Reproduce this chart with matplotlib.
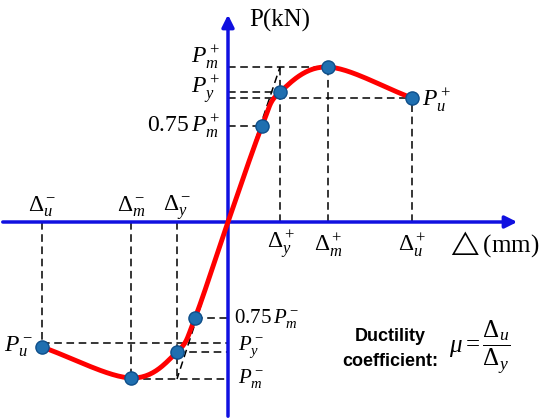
import numpy as np
import matplotlib
matplotlib.use("Agg")
import matplotlib.pyplot as plt

plt.rcParams['mathtext.fontset'] = 'custom'
plt.rcParams['mathtext.rm'] = 'Liberation Serif'
plt.rcParams['mathtext.it'] = 'Liberation Serif:italic'
plt.rcParams['mathtext.bf'] = 'Liberation Serif:bold'
plt.rcParams['font.family'] = 'Liberation Serif'

# key points (displacement, load) in schematic units
curve_x = [-186, -97, -51, -33, 0, 34, 52, 100, 184]
curve_y = [-125, -156, -130, -96, 0, 96, 130, 155, 124]
pts_x = [-186, -97, -51, -33, 34, 52, 100, 184]
pts_y = [-125, -156, -130, -96, 96, 130, 155, 124]

def catmull(xs, ys, n=30):
    P = np.column_stack([xs, ys]).astype(float)
    P = np.vstack([2*P[0]-P[1], P, 2*P[-1]-P[-2]])
    out = []
    for i in range(1, len(P)-2):
        p0, p1, p2, p3 = P[i-1], P[i], P[i+1], P[i+2]
        t = np.linspace(0, 1, n)[:, None]
        out.append(0.5*((2*p1) + (-p0+p2)*t + (2*p0-5*p1+4*p2-p3)*t**2 + (-p0+3*p1-3*p2+p3)*t**3))
    return np.vstack(out)

fig = plt.figure(figsize=(5.5, 4.19), dpi=100)
ax = fig.add_axes([0, 0, 1, 1])
ax.set_xlim(-228, 322)
ax.set_ylim(-197, 222)
ax.axis('off')

dk = dict(color='black', lw=1.1, ls=(0, (5, 3)))
ax.plot([0, 100], [155, 155], **dk)
ax.plot([0, 52], [130, 130], **dk)
ax.plot([0, 184], [124, 124], **dk)
ax.plot([0, 34], [96, 96], **dk)
ax.plot([0, 52], [0, 155], **dk)
for x, y in [(52, 155), (100, 155), (184, 124)]:
    ax.plot([x, x], [0, y], **dk)
ax.plot([-33, 0], [-96, -96], **dk)
ax.plot([-186, 0], [-121, -121], **dk)
ax.plot([-51, 0], [-130, -130], **dk)
ax.plot([-97, 0], [-157, -157], **dk)
ax.plot([0, -51], [0, -157], **dk)
for x, y in [(-186, -121), (-97, -156), (-51, -157)]:
    ax.plot([x, x], [0, y], **dk)

ax.annotate('', xy=(292, 0), xytext=(-228, 0),
            arrowprops=dict(arrowstyle='-|>', color='#1010e0', lw=2.5, mutation_scale=18))
ax.annotate('', xy=(0, 210), xytext=(0, -197),
            arrowprops=dict(arrowstyle='-|>', color='#1010e0', lw=2.5, mutation_scale=18))

c = catmull(curve_x, curve_y)
ax.plot(c[:, 0], c[:, 1], color='#ff0000', lw=3.5, zorder=3)
ax.scatter(pts_x, pts_y, s=90, color='#1f6fb0', edgecolor='#0f4f8a', lw=1, zorder=4)

fs = 17
t = dict(fontsize=fs, ha='center', va='center')
ax.text(52, 202, 'P(kN)', fontsize=18, ha='center', va='center')
ax.text(265, -22, r'$\triangle$(mm)', fontsize=18, ha='center', va='center')
ax.text(-186, 15, r'$\Delta_u^-$', **t)
ax.text(-97, 15, r'$\Delta_m^-$', **t)
ax.text(-51, 15, r'$\Delta_y^-$', **t)
ax.text(53, -22, r'$\Delta_y^+$', **t)
ax.text(100, -22, r'$\Delta_m^+$', **t)
ax.text(184, -22, r'$\Delta_u^+$', **t)
ax.text(-8, 165, r'$P_m^+$', fontsize=fs, ha='right', va='center')
ax.text(-8, 133, r'$P_y^+$', fontsize=fs, ha='right', va='center')
ax.text(-8, 96, r'$0.75\,P_m^+$', fontsize=fs, ha='right', va='center')
ax.text(208, 122, r'$P_u^+$', **t)
ax.text(6, -96, r'$0.75\,P_m^-$', fontsize=15, ha='left', va='center')
ax.text(10, -125, r'$P_y^-$', fontsize=15, ha='left', va='center')
ax.text(10, -157, r'$P_m^-$', fontsize=15, ha='left', va='center')
ax.text(-210, -125, r'$P_u^-$', **t)
ax.text(162, -127, 'Ductility\ncoefficient:', fontsize=13, fontweight='bold',
        family='Liberation Sans', ha='center', va='center', linespacing=1.6)
ax.text(252, -125, r'$\mu = \dfrac{\Delta_u}{\Delta_y}$', fontsize=18, ha='center', va='center')

fig.savefig('out.png', dpi=100)
